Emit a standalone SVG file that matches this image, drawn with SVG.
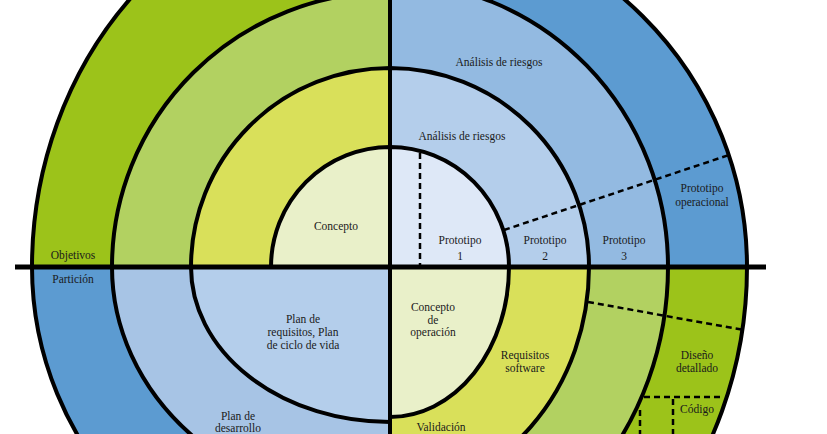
<svg xmlns="http://www.w3.org/2000/svg" width="827" height="434" viewBox="0 0 827 434">
<style>
text{font-family:"Liberation Serif",serif;font-size:11.5px;fill:#1a1a1a;text-anchor:middle}
.q{stroke:#000;stroke-width:4}
.d{fill:none;stroke:#000;stroke-width:2.5;stroke-dasharray:6,4}
</style>
<rect width="827" height="434" fill="#fff"/>
<g id="quadrant-tl">
<path class="q" fill="#9CC31A" d="M390,267 L32,267 A358 390 0 0 1 390,-123 Z"/>
<path class="q" fill="#B2D161" d="M390,267 L112,267 A278 275 0 0 1 390,-8 Z"/>
<path class="q" fill="#D9E05A" d="M390,267 L191,267 A199 199 0 0 1 390,68 Z"/>
<path class="q" fill="#E9F0C9" d="M390,267 L271,267 A119 120 0 0 1 390,147 Z"/>
</g>
<g id="quadrant-tr">
<path class="q" fill="#5C9BD1" d="M390,267 L747,267 A357 355 0 0 0 390,-88 Z"/>
<path class="q" fill="#93BAE1" d="M390,267 L668,267 A278 285 0 0 0 390,-18 Z"/>
<path class="q" fill="#B4CEEB" d="M390,267 L589,267 A199 199 0 0 0 390,68 Z"/>
<path class="q" fill="#DEE8F7" d="M390,267 L509,267 A119 120 0 0 0 390,147 Z"/>
</g>
<g id="quadrant-bl">
<path class="q" fill="#5C9BD1" d="M390,267 L32,267 A358 344 0 0 0 390,611 Z"/>
<path class="q" fill="#A7C4E5" d="M390,267 L112,267 A278 240 0 0 0 390,507 Z"/>
<path class="q" fill="#B4CEEB" d="M390,267 L191,267 A199 155 0 0 0 390,422 Z"/>
</g>
<g id="quadrant-br">
<path class="q" fill="#9CC31A" d="M390,267 L747,267 A357 392 0 0 1 390,659 Z"/>
<path class="q" fill="#B2D161" d="M390,267 L668,267 A278 306 0 0 1 390,573 Z"/>
<path class="q" fill="#D9E05A" d="M390,267 L589,267 A199 226 0 0 1 390,493 Z"/>
<path class="q" fill="#E9F0C9" d="M390,267 L509,267 A119 150 0 0 1 390,417 Z"/>
</g>
<g id="connectors">
<line x1="390" y1="0" x2="390" y2="434" stroke="#000" stroke-width="4"/>
<line x1="15" y1="267" x2="766" y2="267" stroke="#000" stroke-width="5"/>
<line class="d" x1="420" y1="153" x2="420" y2="265"/>
<line class="d" x1="504" y1="230" x2="729" y2="155"/>
<line class="d" x1="588" y1="302" x2="744" y2="330"/>
<line class="d" x1="644" y1="397" x2="724" y2="397"/>
<line class="d" x1="673" y1="399" x2="673" y2="434"/>
<line class="d" x1="640" y1="410" x2="640" y2="434"/>
</g>
<g id="labels">
<text x="499" y="66">Análisis de riesgos</text>
<text x="462" y="140">Análisis de riesgos</text>
<text x="336" y="230">Concepto</text>
<text x="460" y="244">Prototipo</text><text x="460" y="260">1</text>
<text x="545" y="244">Prototipo</text><text x="545" y="260">2</text>
<text x="624" y="244">Prototipo</text><text x="624" y="260">3</text>
<text x="702" y="192">Prototipo</text><text x="702" y="206">operacional</text>
<text x="73" y="259">Objetivos</text>
<text x="73" y="283">Partición</text>
<text x="303" y="323">Plan de</text><text x="303" y="336">requisitos, Plan</text><text x="303" y="349">de ciclo de vida</text>
<text x="433" y="311">Concepto</text><text x="433" y="324">de</text><text x="433" y="336">operación</text>
<text x="525" y="359">Requisitos</text><text x="525" y="372">software</text>
<text x="697" y="359">Diseño</text><text x="697" y="372">detallado</text>
<text x="697" y="413">Código</text>
<text x="441" y="431">Validación</text>
<text x="238" y="420">Plan de</text><text x="238" y="432">desarrollo</text>
</g>
</svg>
